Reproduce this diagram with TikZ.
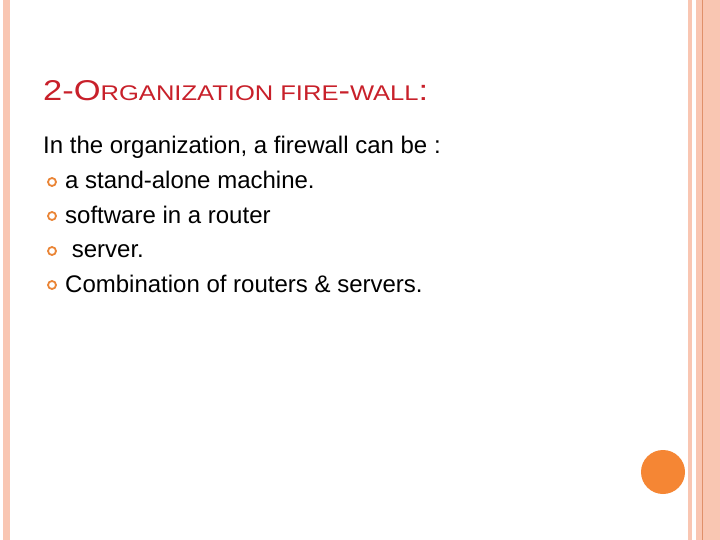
\documentclass[tikz,border=0pt]{standalone}
\usepackage{fontspec}
\usepackage{graphicx}
\setmainfont{Liberation Sans}
\definecolor{pinkb}{HTML}{F9C6B2}
\definecolor{darkb}{HTML}{E0906A}
\definecolor{titlec}{HTML}{C8202A}
\definecolor{orangec}{HTML}{F58634}
\begin{document}
\begin{tikzpicture}[x=1pt,y=-1pt,
  txt/.style={anchor=base west,inner sep=0pt,font=\fontsize{24}{28}\selectfont},
  bul/.style={circle,draw=orangec!80!brown,line width=1.8pt,minimum size=8pt,inner sep=0pt}]
\useasboundingbox (0,0) rectangle (720,540);
\fill[white] (0,0) rectangle (720,540);
\fill[pinkb] (3,0) rectangle (10,540);
\fill[pinkb] (688,0) rectangle (692,540);
\fill[pinkb] (696,0) rectangle (720,540);
\draw[darkb,line width=0.8pt] (702,0) -- (702,540);
\fill[orangec] (663,472) circle (22);
\node[anchor=base west,inner sep=0pt,text=titlec] (title) at (43,101)
  {\resizebox{385pt}{20pt}{\fontsize{27}{30}\selectfont 2-O\fontsize{20}{24}\selectfont RGANIZATION FIRE\fontsize{27}{30}\selectfont -\fontsize{20}{24}\selectfont WALL\fontsize{27}{30}\selectfont :}};
\node[txt] (intro) at (43,154) {In the organization, a firewall can be :};
\node[txt] (l1) at (65,189) {a stand-alone machine.};
\node[txt] (l2) at (65,223) {software in a router};
\node[txt] (l3) at (65,258) {\ server.};
\node[txt] (l4) at (65,292) {Combination of routers \& servers.};
\node[bul] (b1) at (52,182) {};
\node[bul] (b2) at (52,216) {};
\node[bul] (b3) at (52,251) {};
\node[bul] (b4) at (52,285) {};
\end{tikzpicture}
\end{document}
